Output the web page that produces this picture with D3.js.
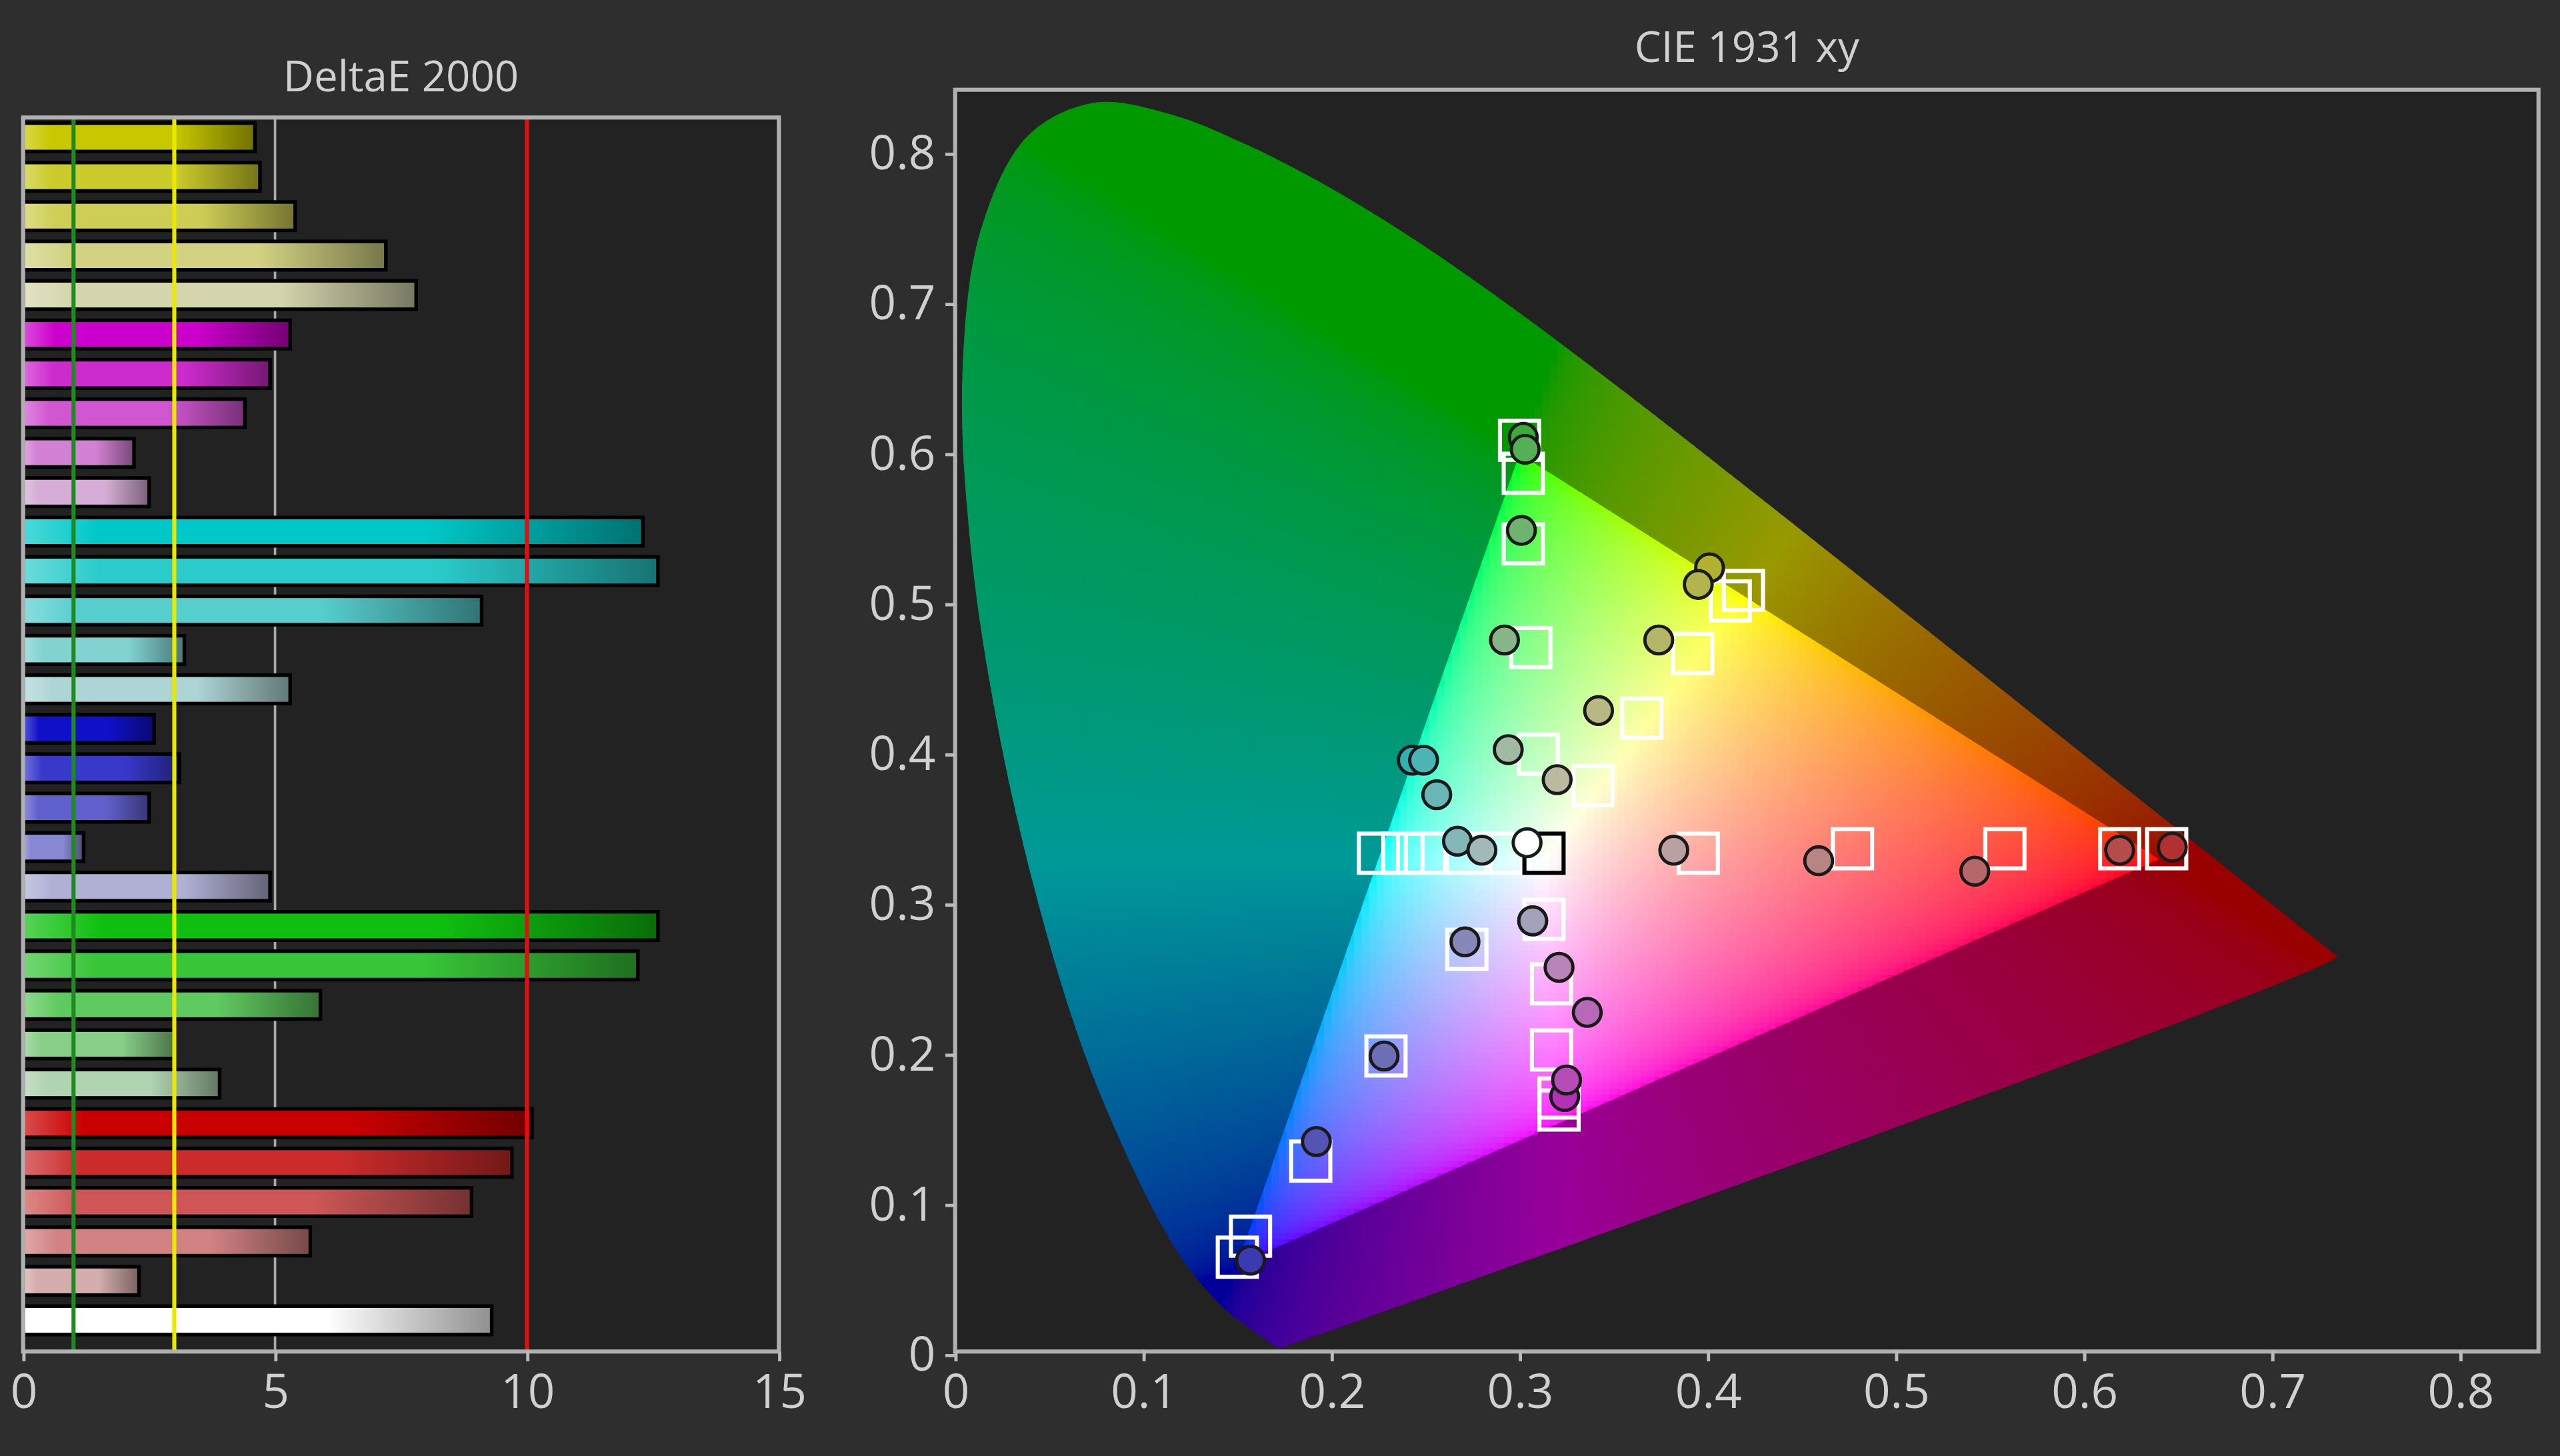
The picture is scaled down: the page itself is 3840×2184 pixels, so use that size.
<!DOCTYPE html>
<html><head><meta charset="utf-8">
<script src="https://cdn.jsdelivr.net/npm/d3@7"></script>
<style>html,body{margin:0;padding:0;background:#2e2e2e;overflow:hidden}</style>
</head><body>
<script>
// ---------- DATA ----------
const groups = ["Yellow","Magenta","Cyan","Blue","Green","Red","White"];
const baseColors = {Yellow:"#c8c800",Magenta:"#cc00cc",Cyan:"#00c8c8",Blue:"#1010c8",Green:"#10c010",Red:"#c80000",White:"#ffffff"};
const barLabels = ["Y100","Y80","Y60","Y40","Y20","M100","M80","M60","M40","M20","C100","C80","C60","C40","C20","B100","B80","B60","B40","B20","G100","G80","G60","G40","G20","R100","R80","R60","R40","R20","W"];
const barValues = [4.6,4.7,5.4,7.2,7.8, 5.3,4.9,4.4,2.2,2.5, 12.3,12.6,9.1,3.2,5.3, 2.6,3.1,2.5,1.2,4.9, 12.6,12.2,5.9,3.0,3.9, 10.1,9.7,8.9,5.7,2.3, 9.3];
const deltaTicks = [0,5,10,15];
const thresholds = [{v:1,c:"#1f8a1f"},{v:3,c:"#e8e800"},{v:10,c:"#e01010"}];
const xyTicks = [0,0.1,0.2,0.3,0.4,0.5,0.6,0.7,0.8];
const locus = [[0.1741,0.0050],[0.1738,0.0049],[0.1733,0.0048],[0.1726,0.0048],[0.1714,0.0051],[0.1689,0.0069],[0.1644,0.0109],[0.1566,0.0177],[0.1440,0.0297],[0.1241,0.0578],[0.1096,0.0868],[0.0913,0.1327],[0.0687,0.2007],[0.0454,0.2950],[0.0235,0.4127],[0.0082,0.5384],[0.0039,0.6548],[0.0139,0.7502],[0.0389,0.8120],[0.0743,0.8338],[0.1142,0.8262],[0.1547,0.8059],[0.1929,0.7816],[0.2296,0.7543],[0.2658,0.7243],[0.3016,0.6923],[0.3373,0.6589],[0.3731,0.6245],[0.4441,0.5547],[0.5125,0.4866],[0.5752,0.4242],[0.6270,0.3725],[0.6658,0.3340],[0.6915,0.3083],[0.7079,0.2920],[0.7190,0.2809],[0.7260,0.2740],[0.7300,0.2700],[0.7334,0.2666],[0.7347,0.2653]];
const gamut = [[0.64,0.33],[0.30,0.60],[0.15,0.06]];
const targetX = [0.419,0.412,0.392,0.365,0.339, 0.321,0.321,0.317,0.317,0.313, 0.225,0.238,0.250,0.272,0.295, 0.150,0.157,0.189,0.229,0.272, 0.300,0.302,0.302,0.306,0.310, 0.644,0.619,0.558,0.477,0.395, 0.313];
const targetY = [0.509,0.502,0.467,0.424,0.379, 0.163,0.171,0.203,0.247,0.290, 0.334,0.334,0.334,0.334,0.334, 0.065,0.079,0.129,0.199,0.270, 0.609,0.587,0.540,0.471,0.400, 0.337,0.337,0.337,0.337,0.334, 0.334];
const measX = [0.401,0.395,0.374,0.342,0.320, 0.324,0.325,0.336,0.321,0.307, 0.243,0.249,0.256,0.267,0.280, 0.157,0.192,0.228,0.271,0.307, 0.302,0.303,0.301,0.292,0.294, 0.647,0.619,0.542,0.459,0.382, 0.304];
const measY = [0.524,0.513,0.476,0.429,0.383, 0.172,0.183,0.228,0.258,0.289, 0.396,0.396,0.373,0.342,0.336, 0.063,0.142,0.199,0.275,0.289, 0.611,0.603,0.549,0.476,0.403, 0.338,0.336,0.322,0.329,0.336, 0.341];

// ---------- SETUP ----------
const W=1568,H=892;
const svg=d3.select("body").append("svg").attr("width",3840).attr("height",2184).attr("viewBox",`0 0 ${W} ${H}`);
svg.append("rect").attr("width",W).attr("height",H).attr("fill","#2e2e2e");
const defs=svg.append("defs");
const font="'Open Sans','Noto Sans',sans-serif";
function colorFor(i){
  const g=groups[Math.min(Math.floor(i/5),6)];
  const lvl=i%5;
  if(g==="White") return "#ffffff";
  return d3.interpolateRgb(baseColors[g],"#d8d8d8")(lvl*0.2);
}

// ---------- LEFT: DeltaE ----------
const L={x0:14,x1:477,y0:72,y1:828};
const xD=d3.scaleLinear().domain([0,15]).range([L.x0,L.x1]);
const yB=d3.scaleBand().domain(barLabels).range([L.y0+1,L.y1-8]).paddingInner(0.28).paddingOuter(0.1);
svg.append("rect").attr("x",L.x0).attr("y",L.y0).attr("width",L.x1-L.x0).attr("height",L.y1-L.y0).attr("fill","#222");
svg.append("g").selectAll("line").data([5,10]).join("line")
 .attr("x1",d=>xD(d)).attr("x2",d=>xD(d)).attr("y1",L.y0).attr("y2",L.y1).attr("stroke","#aaa").attr("stroke-width",1.5);
barLabels.forEach((b,i)=>{
  const c=d3.color(colorFor(i));
  const gr=defs.append("linearGradient").attr("id","bg"+i);
  gr.append("stop").attr("offset","0").attr("stop-color",d3.interpolateRgb(c,"#fff")(0.3));
  gr.append("stop").attr("offset","0.12").attr("stop-color",c);
  gr.append("stop").attr("offset","0.65").attr("stop-color",c);
  gr.append("stop").attr("offset","1").attr("stop-color",c.darker(1.6));
});
svg.append("g").selectAll("rect").data(barValues).join("rect")
 .attr("x",xD(0)).attr("y",(d,i)=>yB(barLabels[i])).attr("height",yB.bandwidth())
 .attr("width",d=>xD(d)-xD(0)).attr("fill",(d,i)=>`url(#bg${i})`).attr("stroke","#000").attr("stroke-width",2.2);
svg.append("g").selectAll("line").data(thresholds).join("line")
 .attr("x1",d=>xD(d.v)).attr("x2",d=>xD(d.v)).attr("y1",L.y0).attr("y2",L.y1).attr("stroke",d=>d.c).attr("stroke-width",2.5);
svg.append("rect").attr("x",L.x0).attr("y",L.y0).attr("width",L.x1-L.x0).attr("height",L.y1-L.y0).attr("fill","none").attr("stroke","#b0b0b0").attr("stroke-width",2.5);
const axL=svg.append("g").attr("transform",`translate(0,${L.y1})`).call(d3.axisBottom(xD).tickValues(deltaTicks).tickSize(6).tickPadding(8).tickFormat(d3.format("d")));
axL.select(".domain").remove();
axL.selectAll("line").attr("stroke","#bbb").attr("stroke-width",2);
axL.selectAll("text").attr("fill","#d0d0d0").attr("font-size",29).attr("font-family",font);
svg.append("text").attr("x",(L.x0+L.x1)/2).attr("y",56).attr("text-anchor","middle").attr("fill","#d0d0d0").attr("font-size",26).attr("font-family",font).text("DeltaE 2000");

// ---------- RIGHT: CIE ----------
const R={x0:585,x1:1555,y0:55,y1:828};
const xC=d3.scaleLinear().domain([0,0.8]).range([585,1507]);
const yC=d3.scaleLinear().domain([0,0.8]).range([830,94]);
svg.append("rect").attr("x",R.x0).attr("y",R.y0).attr("width",R.x1-R.x0).attr("height",R.y1-R.y0).attr("fill","#222");
const lineGen=d3.line().x(d=>xC(d[0])).y(d=>yC(d[1])).curve(d3.curveCatmullRomClosed);
defs.append("clipPath").attr("id","locus").append("path").attr("d",lineGen(locus));
defs.append("clipPath").attr("id","tri").append("path").attr("d",d3.line().x(d=>xC(d[0])).y(d=>yC(d[1]))(gamut)+"Z");
function xyColor(x,y,k){
  const X=x/y,Y=1,Z=(1-x-y)/y;
  let r=3.2406*X-1.5372*Y-0.4986*Z,g=-0.9689*X+1.8758*Y+0.0415*Z,b=0.0557*X-0.2040*Y+1.0570*Z;
  r=Math.max(r,0);g=Math.max(g,0);b=Math.max(b,0);
  const m=Math.max(r,g,b)||1;
  const gam=v=>{v/=m;return v<=0.0031308?12.92*v:1.055*Math.pow(v,1/2.4)-0.055;};
  return `rgb(${Math.round(255*gam(r)*k)},${Math.round(255*gam(g)*k)},${Math.round(255*gam(b)*k)})`;
}
const step=0.004,cells=[];
for(let x=0;x<0.74;x+=step)for(let y=0.002;y<0.84;y+=step)cells.push([x,y]);
const cw=xC(step)-xC(0)+0.8,ch=yC(0)-yC(step)+0.8;
function drawCells(clip,k){
  svg.append("g").attr("clip-path",`url(#${clip})`).selectAll("rect").data(clip==="tri"?cells.filter(d=>d[0]>0.13&&d[0]<0.66&&d[1]<0.62&&d[1]>0.04):cells).join("rect")
   .attr("x",d=>xC(d[0])).attr("y",d=>yC(d[1]+step)).attr("width",cw).attr("height",ch)
   .attr("fill",d=>xyColor(d[0]+step/2,d[1]+step/2,k));
}
drawCells("locus",0.6);
drawCells("tri",1);
// targets
const sq=24;
svg.append("g").selectAll("rect").data(targetX).join("rect")
 .attr("x",(d,i)=>xC(d)-sq/2).attr("y",(d,i)=>yC(targetY[i])-sq/2).attr("width",sq).attr("height",sq)
 .attr("fill","none").attr("stroke",(d,i)=>i===30?"#000":"#fff").attr("stroke-width",2.5);
// measured
svg.append("g").selectAll("circle").data(measX).join("circle")
 .attr("cx",d=>xC(d)).attr("cy",(d,i)=>yC(measY[i])).attr("r",8.5)
 .attr("fill",(d,i)=>d3.interpolateRgb(colorFor(i),"#888")(i===30?0:0.35)).attr("stroke","#1a1a1a").attr("stroke-width",2);
svg.append("rect").attr("x",R.x0).attr("y",R.y0).attr("width",R.x1-R.x0).attr("height",R.y1-R.y0).attr("fill","none").attr("stroke","#b0b0b0").attr("stroke-width",2.5);
const fmt=d=>d===0?"0":d3.format(".1f")(d);
const axB=svg.append("g").attr("transform",`translate(0,${R.y1})`).call(d3.axisBottom(xC).tickValues(xyTicks).tickSize(6).tickPadding(8).tickFormat(fmt));
const axY=svg.append("g").attr("transform",`translate(${R.x0},0)`).call(d3.axisLeft(yC).tickValues(xyTicks).tickSize(6).tickPadding(6).tickFormat(fmt));
[axB,axY].forEach(a=>{a.select(".domain").remove();a.selectAll("line").attr("stroke","#bbb").attr("stroke-width",2);
 a.selectAll("text").attr("fill","#d0d0d0").attr("font-size",29).attr("font-family",font);});
svg.append("text").attr("x",(R.x0+R.x1)/2).attr("y",38).attr("text-anchor","middle").attr("fill","#d0d0d0").attr("font-size",26).attr("font-family",font).text("CIE 1931 xy");
</script>
</body></html>
